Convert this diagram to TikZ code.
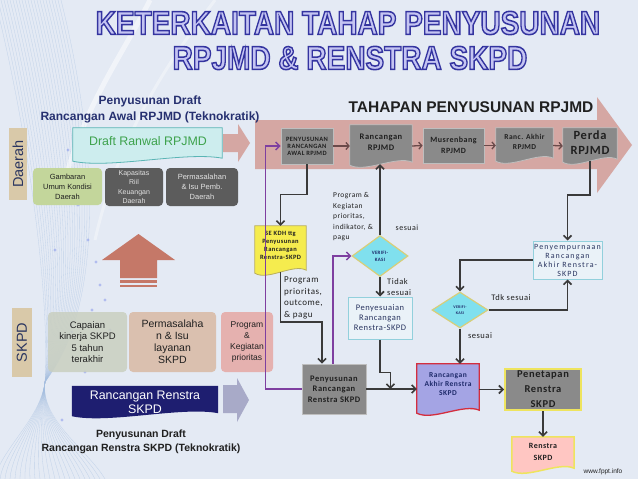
\documentclass[tikz,border=0pt]{standalone}
\usepackage{graphicx}
\usepackage{fontspec}
\setmainfont{Liberation Sans}
\newfontfamily\fcal[LetterSpace=6]{Carlito}
\newfontfamily\fcalw[LetterSpace=14]{Carlito}
\usetikzlibrary{shapes.geometric,arrows.meta,calc}
\pgfdeclarelayer{back}\pgfdeclarelayer{shapes}\pgfsetlayers{back,shapes,main}
\definecolor{cbg}{HTML}{E4EAF4}
\definecolor{cband}{HTML}{D5A7A3}
\definecolor{cgrey}{HTML}{8A8A8A}
\definecolor{cgreyb}{HTML}{BEBEBE}
\definecolor{cconn}{HTML}{3A3A3A}
\definecolor{cbar}{HTML}{6A4A4A}
\definecolor{cpurp}{HTML}{7E3FA0}
\definecolor{cyel}{HTML}{F5EC4E}
\definecolor{cyelb}{HTML}{B8AE5C}
\definecolor{cdia}{HTML}{80E0EE}
\definecolor{cdiab}{HTML}{D8CE78}
\definecolor{clight}{HTML}{EAF2F8}
\definecolor{clightb}{HTML}{92D0DC}
\definecolor{crak}{HTML}{A4A4E4}
\definecolor{crakb}{HTML}{D42E3E}
\definecolor{cpenb}{HTML}{EEE45E}
\definecolor{cren}{HTML}{FFC6C2}
\definecolor{cdr}{HTML}{CDEDEE}
\definecolor{cdrb}{HTML}{5AB5B5}
\definecolor{cdrt}{HTML}{3DA24C}
\definecolor{ctan}{HTML}{D9C9A9}
\definecolor{cgone}{HTML}{C3D69B}
\definecolor{cdark}{HTML}{5C5C5C}
\definecolor{cdarkt}{HTML}{E2E2E2}
\definecolor{ccone}{HTML}{C9CFC0}
\definecolor{cctwo}{HTML}{D9BCA8}
\definecolor{ccthree}{HTML}{E6ABA8}
\definecolor{cup}{HTML}{C57868}
\definecolor{cnavy}{HTML}{1E1E70}
\definecolor{carrtwo}{HTML}{A8AAC8}
\definecolor{ctxt}{HTML}{202020}
\definecolor{chead}{HTML}{263070}
\definecolor{ctitle}{HTML}{C4C4F2}
\definecolor{cswirl}{HTML}{A4BEE0}
\definecolor{cnavyt}{HTML}{2A3560}
\definecolor{cnavyd}{HTML}{1E2A6A}
\newcommand\fsz[2]{\fontsize{#1}{#2}\selectfont}
\newcommand\outl[1]{\special{pdf:literal direct 2 Tr 1.3 w 0.204 0.204 0.627 RG}#1\special{pdf:literal direct 0 Tr}}
\newcommand\docpath[2]{%
  \begin{pgfonlayer}{shapes}
  \path[#2] (#1.north west) -- (#1.north east) -- ($(#1.south east)+(0,5pt)$)
    .. controls ($(#1.south)!0.5!(#1.south east)+(0,12pt)$) and ($(#1.south)!0.5!(#1.south west)+(0,-6pt)$)
    .. ($(#1.south west)+(0,2pt)$) -- cycle;
  \end{pgfonlayer}}
\begin{document}
\begin{tikzpicture}[x=1pt,y=-1pt,
  box/.style={rectangle, inner sep=0pt, align=center},
  gbox/.style={box, fill=cgrey, draw=cgreyb, line width=0.8pt, text=ctxt},
  lbox/.style={box, fill=clight, draw=clightb, line width=1pt, text=cnavyt},
  rbox/.style={box, rounded corners=4pt},
  docn/.style={box, draw=none},
  dia/.style={diamond, draw=cdiab, fill=cdia, line width=1.2pt, inner sep=0pt, align=center, text=cnavyd},
  lbl/.style={inner sep=0pt, text=ctxt},
  ttl/.style={inner sep=0pt, text=ctitle, font=\bfseries\fsz{28}{30}},
  conn/.style={draw=cconn, line width=1.6pt, -{Straight Barb[length=4pt,width=8pt]}},
  bar/.style={draw=cbar, line width=1.3pt, -{Straight Barb[length=3pt,width=7pt]}},
  purp/.style={draw=cpurp, line width=1.4pt, -{Straight Barb[length=4pt,width=8pt]}}]
\useasboundingbox (0,0) rectangle (638,479);
\begin{pgfonlayer}{back}
\fill[cbg] (0,0) rectangle (638,479);
\begin{scope}[draw=cswirl, line width=0.3pt, opacity=0.55]
\foreach \i in {0,...,22}{
  \draw (\i*3-5,0) .. controls (\i*3+30,140) and (50+\i*2.6,300) .. (45,382)
        .. controls (40,420) and (\i*4,450) .. (\i*5-5,479);
}
\end{scope}
\draw[white, opacity=0.5, line width=5pt] (150,0) .. controls (120,60) and (80,110) .. (60,200);
\draw[white, opacity=0.35, line width=3pt] (215,0) .. controls (170,60) and (120,130) .. (95,240);
\foreach \p in {(68,150),(78,205),(88,240),(96,262),(100,285),(92,310),(72,332),(105,300),(62,420),(85,372),(55,250),(110,330)}
  \fill[cswirl!70!blue, opacity=0.45] \p circle (1.6pt);
\fill[cband] (255,120) -- (597,120) -- (597,97) -- (632,145) -- (597,193) -- (597,169) -- (255,169) -- cycle;
\fill[cband] (223,134) -- (238,134) -- (238,124) -- (250,143) -- (238,162) -- (238,152) -- (223,152) -- cycle;
\fill[carrtwo] (223,385) -- (237,385) -- (237,378) -- (249,400) -- (237,422) -- (237,413) -- (223,413) -- cycle;
\fill[cup] (102,260) -- (138.5,234) -- (175,260) -- (157,260) -- (157,278) -- (120,278) -- (120,260) -- cycle;
\fill[cup] (120,280) rectangle (157,282.5);
\fill[cup] (120,284.5) rectangle (157,287);
\end{pgfonlayer}

% title
\node[ttl] (ta) at (348,23) {\scalebox{1}[1.18]{\outl{KETERKAITAN TAHAP PENYUSUNAN}}};
\node[ttl] (tb) at (350,58) {\scalebox{1}[1.18]{\outl{RPJMD \& RENSTRA SKPD}}};

% left headings
\node[lbl, text=chead, align=center, font=\bfseries\fsz{12}{16}] (h1) at (150,109) {Penyusunan Draft\\Rancangan Awal RPJMD (Teknokratik)};
\node[lbl, align=center, font=\bfseries\fsz{10.5}{14}] (h2) at (141,442) {Penyusunan Draft\\Rancangan Renstra SKPD (Teknokratik)};
\node[lbl, font=\bfseries\fsz{15.5}{18}] (tah) at (471,107) {TAHAPAN PENYUSUNAN RPJMD};

% Daerah part
\node[box, rotate=90, fill=ctan, minimum width=72pt, minimum height=18pt, text=cnavyt, font=\fsz{14.5}{16}] (dae) at (18,164) {Daerah};
\node[docn, minimum width=149pt, minimum height=35pt] (dr) at (147.5,145.5) {};
\docpath{dr}{fill=cdr, draw=cdrb, line width=0.8pt}
\node[lbl, text=cdrt, font=\fsz{12.4}{14}] (drt) at (148,141) {Draft Ranwal RPJMD};
\node[rbox, fill=cgone, minimum width=69pt, minimum height=37pt, text=ctxt, font=\fsz{7.5}{10}] (g1) at (67.5,186.5) {Gambaran\\Umum Kondisi\\Daerah};
\node[rbox, fill=cdark, minimum width=58pt, minimum height=38pt, text=cdarkt, font=\fsz{7}{9.5}] (g2) at (134,187) {Kapasitas\\Riil\\Keuangan\\Daerah};
\node[rbox, fill=cdark, minimum width=72pt, minimum height=38pt, text=cdarkt, font=\fsz{7.5}{10}] (g3) at (202,187) {Permasalahan\\\& Isu Pemb.\\Daerah};

% SKPD part
\node[box, rotate=90, fill=ctan, minimum width=69pt, minimum height=20pt, text=cnavyt, font=\fsz{14.5}{16}] (skpd) at (22,342.5) {SKPD};
\node[rbox, fill=ccone, fill opacity=0.85, text opacity=1, minimum width=79pt, minimum height=60pt, text=ctxt, font=\fsz{9.5}{11.3}] (c1) at (87.5,342) {Capaian\\kinerja SKPD\\5 tahun\\terakhir};
\node[rbox, fill=cctwo, fill opacity=0.9, text opacity=1, minimum width=87pt, minimum height=60pt, text=ctxt, font=\fsz{10.5}{12}] (c2) at (172.5,342) {Permasalaha\\n \& Isu\\layanan\\SKPD};
\node[rbox, fill=ccthree, fill opacity=0.9, text opacity=1, minimum width=52pt, minimum height=60pt, text=ctxt, font=\fsz{8.5}{10.7}] (c3) at (247,342) {Program\\\&\\Kegiatan\\prioritas};
\node[docn, minimum width=146pt, minimum height=32pt] (rr) at (145,402) {};
\docpath{rr}{fill=cnavy}
\node[lbl, text=white, align=center, font=\fsz{12.4}{14}] (rrt) at (145,402) {Rancangan Renstra\\SKPD};

% RPJMD band boxes
\node[gbox, minimum width=52pt, minimum height=36pt, font={\fcal\bfseries\fsz{6.5}{7}}] (b1) at (307,146) {PENYUSUNAN\\RANCANGAN\\AWAL RPJMD};
\node[docn, minimum width=62pt, minimum height=42pt] (b2) at (381,146) {};
\docpath{b2}{fill=cgrey, draw=cgreyb, line width=0.8pt}
\node[lbl, align=center, font={\fcal\bfseries\fsz{8.5}{11}}] (b2t) at (381,142) {Rancangan\\RPJMD};
\node[gbox, minimum width=61pt, minimum height=35pt, font={\fcal\bfseries\fsz{8}{11}}] (b3) at (453.5,145.5) {Musrenbang\\RPJMD};
\node[docn, minimum width=57pt, minimum height=35pt] (b4) at (524.5,145.5) {};
\docpath{b4}{fill=cgrey, draw=cgreyb, line width=0.8pt}
\node[lbl, align=center, font={\fcal\bfseries\fsz{7.5}{10}}] (b4t) at (524.5,142) {Ranc. Akhir\\RPJMD};
\node[docn, minimum width=54pt, minimum height=36pt] (b5) at (590,146) {};
\docpath{b5}{fill=cgrey, draw=cgreyb, line width=0.8pt}
\node[lbl, align=center, font={\fcal\bfseries\fsz{12.5}{15}}] (b5t) at (590,143) {Perda\\RPJMD};

% flow nodes
\node[docn, minimum width=51pt, minimum height=49pt] (se) at (280.5,250.5) {};
\docpath{se}{fill=cyel, draw=cyelb, line width=0.8pt}
\node[lbl, align=center, font={\fcal\bfseries\fsz{6.5}{8}}] (set) at (280.5,245) {SE KDH ttg\\Penyusunan\\Rancangan\\Renstra-SKPD};
\node[dia, minimum width=56pt, minimum height=41pt, font={\fcal\bfseries\fsz{5}{7}}] (d1) at (380,256) {VERIFI-\\KASI};
\node[lbox, minimum width=64pt, minimum height=42pt, font={\fcal\fsz{8.5}{10}}] (ps) at (380,318) {Penyesuaian\\Rancangan\\Renstra-SKPD};
\node[gbox, minimum width=64pt, minimum height=50pt, font={\fcal\bfseries\fsz{8.5}{10.5}}] (pr) at (334,389) {Penyusunan\\Rancangan\\Renstra SKPD};
\node[docn, minimum width=62pt, minimum height=51pt] (rak) at (448,389.5) {};
\docpath{rak}{fill=crak, draw=crakb, line width=1.3pt}
\node[lbl, align=center, text=cnavyd, font={\fcal\bfseries\fsz{7.5}{9}}] (rakt) at (448,384) {Rancangan\\Akhir Renstra\\SKPD};
\node[gbox, draw=cpenb, line width=2pt, minimum width=76pt, minimum height=41pt, font={\fcal\bfseries\fsz{10.5}{15}}] (pen) at (543,389.5) {Penetapan\\Renstra\\SKPD};
\node[docn, minimum width=62pt, minimum height=36pt] (ren) at (543,455) {};
\docpath{ren}{fill=cren, draw=cpenb, line width=1.5pt}
\node[lbl, align=center, font={\fcal\bfseries\fsz{8}{12}}] (rent) at (543,452) {Renstra\\SKPD};
\node[lbox, minimum width=69pt, minimum height=38pt, font={\fcalw\fsz{8}{9}}] (pm) at (567.5,260) {Penyempurnaan\\Rancangan\\Akhir Renstra-\\SKPD};
\node[dia, minimum width=56pt, minimum height=36pt, font={\fcal\bfseries\fsz{4}{5.5}}] (d2) at (460,310) {VERIFI-\\KASI};

% labels
\node[lbl, anchor=west, align=left, font={\fcal\fsz{7.5}{10.5}}] (l1) at (333,217) {Program \&\\Kegiatan\\prioritas,\\indikator, \&\\pagu};
\node[lbl, font={\fcal\fsz{8}{10}}] (l2) at (407,228) {sesuai};
\node[lbl, anchor=west, align=left, font={\fcal\fsz{8.5}{11.5}}] (l3) at (387,287) {Tidak\\sesuai};
\node[lbl, anchor=west, align=left, font={\fcal\fsz{9}{11.5}}] (l4) at (284,298) {Program\\prioritas,\\outcome,\\\& pagu};
\node[lbl, font={\fcal\fsz{8.5}{10}}] (l5) at (511,298) {Tdk sesuai};
\node[lbl, font={\fcal\fsz{8.5}{10}}] (l6) at (480,336) {sesuai};
\node[lbl, font=\fsz{6.5}{8}] (www) at (603,472) {www.fppt.info};

% connectors
\draw[bar] (b1.east) -- (b2.west);
\draw[bar] (b2.east) -- (b3.west);
\draw[bar] (b3.east) -- (b4.west);
\draw[bar] (b4.east) -- (b5.west);
\draw[conn] (b1.south) -- ++(0,30) -| (se.north);
\draw[conn] ($(se.south)+(0,3pt)$) -- ++(0,50) -| ([xshift=-12pt]pr.north);
\draw[conn] (d1.north) -- ($(d1.north |- b2.south)+(0,3pt)$);
\draw[conn] (d1.south) -- (ps.north);
\coordinate (jn) at ([xshift=24pt]pr.east);
\draw[conn] (pr.east) -- (pr.east -| rak.west);
\draw[conn] (ps.south) -- ++(0,33) -| (jn);
\draw[conn] (rak.east) -- (rak.east -| pen.west);
\draw[conn] (pen.south) -- (ren.north);
\draw[conn] ($(b5.south)+(0,3pt)$) -- ++(0,34) -| (pm.north);
\draw[conn] (pm.west) -| (d2.north);
\draw[conn] (d2.east) -| (pm.south);
\draw[conn] (d2.south) -- (d2.south |- rak.north);
\draw[purp] (pr.west) -- ++(-36,0) |- (b1.west);
\draw[purp] ([xshift=-1pt]pr.north) |- (d1.west);
\end{tikzpicture}
\end{document}
